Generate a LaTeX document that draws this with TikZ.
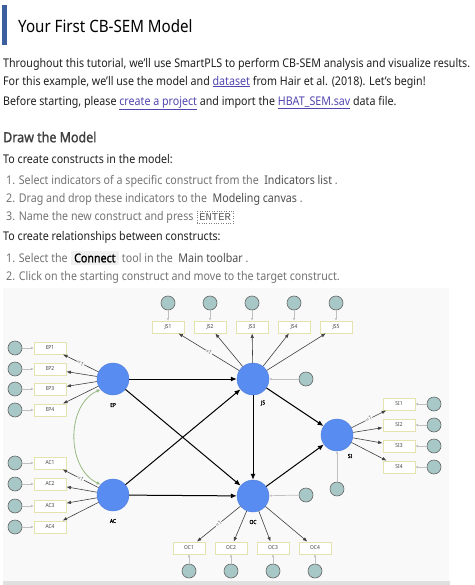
\documentclass[tikz,border=0pt]{standalone}
\usepackage{fontspec}
\setmainfont{Noto Sans}[FakeStretch=0.89,AutoFakeBold=1.4]
\newfontfamily\codefont{Liberation Mono}
\usepackage{xcolor}
\usepackage{tikz}
\usetikzlibrary{arrows.meta,positioning}
\definecolor{latcol}{RGB}{88,140,240}
\definecolor{errcol}{RGB}{168,200,200}
\definecolor{boxcol}{RGB}{228,226,175}
\definecolor{linkcol}{RGB}{80,70,175}
\definecolor{listcol}{RGB}{115,115,115}
\definecolor{covcol}{RGB}{150,185,130}
\definecolor{barcol}{RGB}{60,95,160}
\definecolor{bgcol}{RGB}{249,249,249}

\begin{document}
\begin{tikzpicture}[x=1pt,y=-1pt,
  txt/.style={anchor=west,inner sep=0pt,font=\fontsize{12}{14}\selectfont,text=black!88},
  item/.style={txt,text=listcol},
  lat/.style={circle,fill=latcol,draw=latcol!90!black,line width=0.4pt,minimum size=32pt,inner sep=0pt},
  latlab/.style={font=\fontsize{5.5}{6}\selectfont\bfseries,inner sep=0pt},
  ind/.style={draw=boxcol,fill=white,line width=0.8pt,minimum width=32pt,minimum height=12pt,inner sep=0pt,font=\fontsize{5.5}{6}\selectfont,text=black!75},
  err/.style={circle,fill=errcol,draw=black!60,line width=0.6pt,minimum size=14pt,inner sep=0pt},
  path/.style={-{Latex[length=6pt,width=5pt]},line width=1pt,black},
  meas/.style={-{Latex[length=4.5pt,width=3.5pt]},line width=0.6pt,black!75},
  errarr/.style={-{Latex[length=2.5pt,width=2.5pt]},line width=0.7pt,black!25},
  onelab/.style={font=\fontsize{6}{7}\selectfont,text=black!60,fill=bgcol,inner sep=0.5pt,sloped}]
\useasboundingbox (0,0) rectangle (474,585);

% heading and text
\fill[barcol] (2,5) rectangle (7,45);
\node[txt,font=\fontsize{17}{20}\selectfont,text=black] (title) at (18,26) {Your First CB-SEM Model};
\node[txt] (l1) at (3,64) {Throughout this tutorial, we'll use SmartPLS to perform CB-SEM analysis and visualize results.};
\node[txt] (l2) at (3,82) {For this example, we'll use the model and {\color{linkcol}\underline{dataset}} from Hair et al. (2018). Let's begin!};
\node[txt] (l3) at (3,103) {Before starting, please {\color{linkcol}\underline{create a project}} and import the {\color{linkcol}\underline{HBAT\_SEM.sav}} data file.};
\node[txt,font=\fontsize{14}{17}\selectfont\bfseries,text=black!75] (draw) at (3,137) {Draw the Model};
\node[txt] (l4) at (3,159) {To create constructs in the model:};
\node[item] (i1) at (6,181) {1. Select indicators of a specific construct from the \ {\color{black!70}Indicators list} .};
\node[item] (i2) at (6,199) {2. Drag and drop these indicators to the \ {\color{black!70}Modeling canvas} .};
\node[item] (i3) at (6,217) {3. Name the new construct and press};
\node[draw=black!50,dotted,inner sep=2.5pt,font=\codefont\fontsize{10.5}{12}\selectfont,text=black!65,right=3pt of i3] (enter) {ENTER};
\node[txt] (l5) at (3,237) {To create relationships between constructs:};
\node[item] (j1) at (6,258) {1. Select the};
\node[fill=black!6,inner sep=3pt,font=\fontsize{12}{14}\selectfont\bfseries,text=black,right=3pt of j1] (conn) {Connect};
\node[item,right=3pt of conn] (j1b) {tool in the \ {\color{black!70}Main toolbar} .};
\node[item] (j2) at (6,277) {2. Click on the starting construct and move to the target construct.};

% model canvas
\fill[bgcol] (3,288) rectangle (449,581);
\fill[black!12] (3,581) rectangle (450,585);

% constructs
\node[lat] (EP) at (113,379) {};
\node[lat] (AC) at (113,495) {};
\node[lat] (JS) at (253,379) {};
\node[lat] (OC) at (253,496) {};
\node[lat] (SI) at (337,435) {};
\node[latlab] (EPl) at (113,405) {EP};
\node[latlab] (ACl) at (113,521) {AC};
\node[latlab] (JSl) at (263,403) {JS};
\node[latlab] (OCl) at (253,522) {OC};
\node[latlab] (SIl) at (350,456) {SI};

% indicators with their errors
\foreach \i/\y in {1/348,2/369,3/389,4/410} {
  \node[ind] (EP\i) at (50,\y) {EP\i};
  \node[err] (eEP\i) at (15,\y) {};
  \draw[errarr] (eEP\i) -- (EP\i);
}
\foreach \i/\y in {1/463,2/484,3/506,4/527} {
  \node[ind] (AC\i) at (50,\y) {AC\i};
  \node[err] (eAC\i) at (15,\y) {};
  \draw[errarr] (eAC\i) -- (AC\i);
}
\foreach \i/\x in {1/168,2/210,3/252,4/294,5/336} {
  \node[ind] (JS\i) at (\x,327) {JS\i};
  \node[err] (eJS\i) at (\x,303) {};
  \draw[errarr] (eJS\i) -- (JS\i);
}
\foreach \i/\x in {1/189,2/231,3/273,4/315} {
  \node[ind] (OC\i) at (\x,548) {OC\i};
  \node[err] (eOC\i) at (\x,571) {};
  \draw[errarr] (eOC\i) -- (OC\i);
}
\foreach \i/\y in {1/404,2/425,3/446,4/467} {
  \node[ind] (SI\i) at (399,\y) {SI\i};
  \node[err] (eSI\i) at (434,\y) {};
  \draw[errarr] (eSI\i) -- (SI\i);
}
\node[err] (eJS) at (306,379) {};
\node[err] (eOC) at (306,495) {};
\node[err] (eSI) at (337,489) {};
\draw[errarr] (eJS) -- (JS);
\draw[errarr] (eOC) -- (OC);
\draw[errarr] (eSI) -- (SI);

% loadings
\draw[meas] (EP) -- node[onelab] {=1} (EP1);
\foreach \i in {2,3,4} \draw[meas] (EP) -- (EP\i);
\draw[meas] (AC) -- node[onelab] {=1} (AC1);
\foreach \i in {2,3,4} \draw[meas] (AC) -- (AC\i);
\draw[meas] (JS) -- node[onelab] {=1} (JS1);
\foreach \i in {2,...,5} \draw[meas] (JS) -- (JS\i);
\draw[meas] (OC) -- node[onelab] {=1} (OC1);
\foreach \i in {2,3,4} \draw[meas] (OC) -- (OC\i);
\draw[meas] (SI) -- node[onelab] {=1} (SI1);
\foreach \i in {2,3,4} \draw[meas] (SI) -- (SI\i);

% structural paths
\draw[path] (EP) -- (JS);
\draw[path] (EP) -- (OC);
\draw[path] (AC) -- (JS);
\draw[path] (AC) -- (OC);
\draw[path] (JS) -- (OC);
\draw[path] (JS) -- (SI);
\draw[path] (OC) -- (SI);
\draw[{Latex[length=4pt,width=3.5pt]}-{Latex[length=4pt,width=3.5pt]},covcol,line width=0.8pt]
  (EP.220) .. controls (66,405) and (66,468) .. (AC.140);
\end{tikzpicture}
\end{document}
